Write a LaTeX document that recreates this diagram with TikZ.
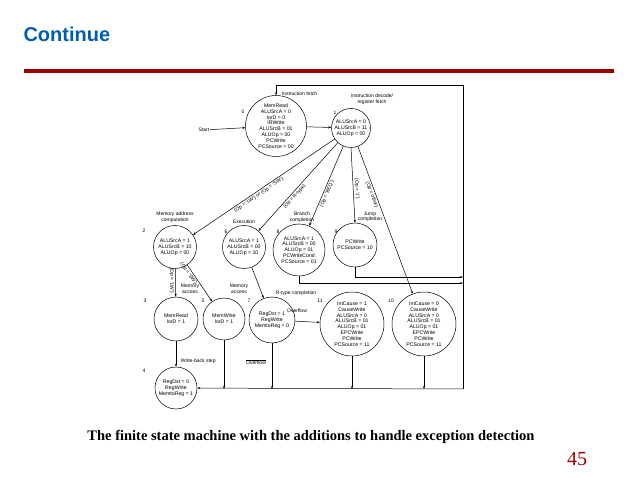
\documentclass[tikz,border=0pt]{standalone}
\usepackage{fontspec}
\setmainfont{Liberation Sans}
\newfontfamily\serifff{Liberation Serif}
\usetikzlibrary{arrows.meta}
\definecolor{titleblue}{RGB}{0,94,170}
\definecolor{barred}{RGB}{155,0,0}
\begin{document}
\begin{tikzpicture}[x=1pt,y=-1pt,
  st/.style={circle,draw,line width=0.5pt,inner sep=0pt,font=\fontsize{5.2}{5.8}\selectfont,align=center},
  lb/.style={font=\fontsize{5}{5.6}\selectfont,align=center,inner sep=0.7pt},
  el/.style={font=\fontsize{5}{5.6}\selectfont,inner sep=1.2pt,sloped},
  ar/.style={line width=0.5pt,-{Stealth[length=3pt,width=2.2pt]}},
  ln/.style={line width=0.5pt}]
\useasboundingbox (0,0) rectangle (638,478);
\node[anchor=west,font=\fontsize{20}{20}\bfseries\selectfont,text=titleblue] (title) at (20,34) {Continue};
\fill[barred] (24,69) rectangle (614,73);
% states
\node[st,minimum size=61] (s0) at (276,126) {MemRead\\ALUSrcA = 0\\IorD = 0\\IRWrite\\ALUSrcB = 01\\ALUOp = 00\\PCWrite\\PCSource = 00};
\node[st,minimum size=39] (s1) at (351,128) {ALUSrcA = 0\\ALUSrcB = 11\\ALUOp = 00};
\node[st,minimum size=43] (s2) at (175,247) {ALUSrcA = 1\\ALUSrcB = 10\\ALUOp = 00};
\node[st,minimum size=43] (s6) at (244,247) {ALUSrcA = 1\\ALUSrcB = 00\\ALUOp = 10};
\node[st,minimum size=52] (s8) at (299,250) {ALUSrcA = 1\\ALUSrcB = 00\\ALUOp = 01\\PCWriteCond\\PCSource = 01};
\node[st,minimum size=44] (s9) at (355,245) {PCWrite\\PCSource = 10};
\node[st,minimum size=44] (s3) at (176,319) {MemRead\\IorD = 1};
\node[st,minimum size=42] (s5) at (224,319) {MemWrite\\IorD = 1};
\node[st,minimum size=46] (s7) at (272,320) {RegDst = 1\\RegWrite\\MemtoReg = 0};
\node[st,minimum size=64] (s11) at (352,324) {IntCause = 1\\CauseWrite\\ALUSrcA = 0\\ALUSrcB = 01\\ALUOp = 01\\EPCWrite\\PCWrite\\PCSource = 11};
\node[st,minimum size=64] (s10) at (424,324) {IntCause = 0\\CauseWrite\\ALUSrcA = 0\\ALUSrcB = 01\\ALUOp = 01\\EPCWrite\\PCWrite\\PCSource = 11};
\node[st,minimum size=42] (s4) at (176,388) {RegDst = 0\\RegWrite\\MemtoReg = 1};
% numbers
\node[lb] (n0) at (243,112) {0};
\node[lb] (n1) at (335,113) {1};
\node[lb] (n2) at (144,231) {2};
\node[lb] (n6) at (226,232) {6};
\node[lb] (n8) at (278,232) {8};
\node[lb] (n9) at (336,232) {9};
\node[lb] (n3) at (145,301) {3};
\node[lb] (n5) at (203,301) {5};
\node[lb] (n7) at (249,301) {7};
\node[lb] (n11) at (320,301) {11};
\node[lb] (n10) at (391,301) {10};
\node[lb] (n4) at (144,371) {4};
% text labels
\node[lb,anchor=west] (tif) at (281,94) {Instruction fetch};
\node[lb] (tid) at (372,99) {Instruction decode/\\register fetch};
\node[lb] (start) at (204,130) {Start};
\node[lb] (tma) at (175,217) {Memory address\\computation};
\node[lb] (tex) at (244,222) {Execution};
\node[lb] (tbc) at (302,217) {Branch\\completion};
\node[lb,anchor=west] (tjc) at (357,217) {Jump\\completion};
\node[lb] (tm1) at (190,289) {Memory\\access};
\node[lb] (tm2) at (239,289) {Memory\\access};
\node[lb,anchor=west] (trt) at (275,293) {R-type completion};
\node[lb] (tov) at (297,311) {Overflow};
\node[lb] (tnov) at (256,362) {$\overline{\mbox{Overflow}}$};
\node[lb,anchor=west] (twb) at (180,361) {Write-back step};
% coordinates
\coordinate (rt) at (463,85);
\coordinate (rb) at (463,389);
\coordinate (c8) at (299,283);
\coordinate (c9) at (355,277);
% edges
\draw[ar] (start) -- (s0);
\draw[ar] (s0) -- (s1);
\draw[ln] (rb) -- (rt) -- (276,85);
\draw[ar] (276,85) -- (s0);
\draw[ar] (s1) -- node[el,anchor=north,pos=0.55]{(Op = 'LW') or (Op = 'SW')} (s2);
\draw[ar] (s1) -- node[el,anchor=north,pos=0.58]{(Op = R-type)} (s6);
\draw[ar] (s1) -- node[el,anchor=north,pos=0.58]{(Op = 'BEQ')} (s8);
\draw[ar] (s1.south) -- node[el,anchor=south,pos=0.55]{(Op = 'J')} (s9.north);
\draw[ar] (s1) -- node[el,anchor=north,pos=0.32]{(Op = other)} (s10);
\draw[ar] (s2) -- node[el,anchor=north,pos=0.42]{(Op = 'LW')} (s3);
\draw[ar] (s2) -- node[el,anchor=north,pos=0.18]{(Op = 'SW')} (s5);
\draw[ar] (s6) -- (s7);
\draw[ar] (s7) -- (s11);
\draw[ar] (s3) -- (s4);
\draw[ln] (s8.south) -- (c8);
\draw[ar] (c8) -- (463,283);
\draw[ln] (s9.south) -- (c9);
\draw[ar] (c9) -- (463,277);
\draw[ar] (rb) -- (s4);
\draw[ar] (s5.south) -- (224,389);
\draw[ar] (s7.south) -- (272,389);
\draw[ar] (s11.south) -- (352,389);
\draw[ar] (s10.south) -- (424,389);
% caption
\node[font=\serifff\fontsize{14.5}{14.5}\bfseries\selectfont] (cap) at (311,437) {The finite state machine with the additions to handle exception detection};
\node[font=\serifff\fontsize{20}{20}\selectfont,text=barred] (pg) at (577,459) {45};
\end{tikzpicture}
\end{document}
